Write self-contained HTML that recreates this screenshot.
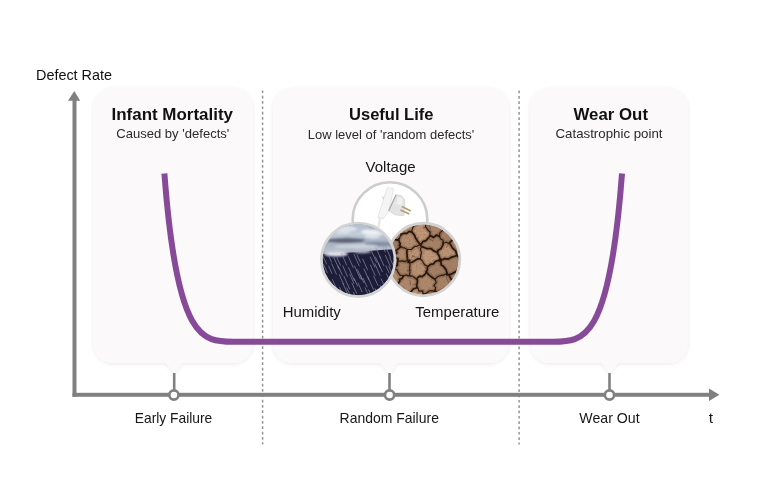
<!DOCTYPE html>
<html><head><meta charset="utf-8">
<style>
html,body{margin:0;padding:0;background:#fff;width:768px;height:480px;overflow:hidden}
svg{display:block}
text{font-family:"Liberation Sans",sans-serif}
</style></head>
<body>
<svg width="768" height="480" viewBox="0 0 768 480">
<defs>
  <filter id="sh" x="-20%" y="-20%" width="140%" height="140%">
    <feGaussianBlur in="SourceAlpha" stdDeviation="2"/>
    <feOffset dy="1.2"/>
    <feComponentTransfer><feFuncA type="linear" slope="0.09"/></feComponentTransfer>
    <feMerge><feMergeNode/><feMergeNode in="SourceGraphic"/></feMerge>
  </filter>
  <filter id="gray" x="0" y="0" width="100%" height="100%"><feOffset dx="0" dy="0"/></filter>
  <filter id="grain" x="0" y="0" width="100%" height="100%">
    <feTurbulence type="fractalNoise" baseFrequency="0.55" numOctaves="2" seed="4" result="n"/>
    <feColorMatrix in="n" type="matrix" values="0 0 0 0 0.25  0 0 0 0 0.16  0 0 0 0 0.1  0 0 0 -2.2 1.25"/>
  </filter>
  <filter id="blur1"><feGaussianBlur stdDeviation="1.2"/></filter>
  <filter id="blur2"><feGaussianBlur stdDeviation="2.2"/></filter>
  <clipPath id="cH"><circle cx="358.2" cy="259.8" r="35.8"/></clipPath>
  <clipPath id="cT"><circle cx="423.5" cy="259.5" r="35.3"/></clipPath>
  <linearGradient id="gH" gradientUnits="userSpaceOnUse" x1="0" y1="222" x2="0" y2="256">
    <stop offset="0" stop-color="#aebacb"/>
    <stop offset="0.35" stop-color="#c4cdda"/>
    <stop offset="0.6" stop-color="#a6b0c1"/>
    <stop offset="0.85" stop-color="#b8c0cd"/>
    <stop offset="1" stop-color="#6a7186"/>
  </linearGradient>
</defs>

<!-- cards -->
<g fill="#fbf9fa" filter="url(#sh)">
  <path d="M113.5,88 H233 A20,20 0 0 1 253,108 V343 A20,20 0 0 1 233,363 H182 L174.3,373.5 L166.5,363 H113.5 A20,20 0 0 1 93.5,343 V108 A20,20 0 0 1 113.5,88 Z"/>
  <path d="M293,88 H489 A20,20 0 0 1 509,108 V343 A20,20 0 0 1 489,363 H397.5 L389.5,373.5 L381.5,363 H293 A20,20 0 0 1 273,343 V108 A20,20 0 0 1 293,88 Z"/>
  <path d="M550,88 H668 A20,20 0 0 1 688,108 V343 A20,20 0 0 1 668,363 H617.5 L609.5,373.5 L601.5,363 H550 A20,20 0 0 1 530,343 V108 A20,20 0 0 1 550,88 Z"/>
</g>

<!-- dashed separators -->
<g stroke="#959595" stroke-width="1.5" stroke-dasharray="2.7 2.6325">
  <line x1="262.6" y1="90.4" x2="262.6" y2="444.5"/>
  <line x1="519.1" y1="90.6" x2="519.1" y2="444.5"/>
</g>

<!-- axes -->
<g fill="#808080" stroke="none">
  <rect x="72.5" y="99" width="4" height="297.8"/>
  <rect x="72.5" y="392.8" width="637" height="4"/>
  <polygon points="74.3,91 68,100.8 80.2,100.8"/>
  <polygon points="719.4,394.8 709,388.6 709,401"/>
</g>

<!-- ticks -->
<g stroke="#808080" fill="#fff">
  <line x1="174.2" y1="373" x2="174.2" y2="392" stroke-width="2.6"/>
  <line x1="389.5" y1="373" x2="389.5" y2="392" stroke-width="2.6"/>
  <line x1="609.5" y1="373" x2="609.5" y2="392" stroke-width="2.6"/>
  <circle cx="173.9" cy="395" r="4.6" stroke-width="2.7"/>
  <circle cx="389.6" cy="395" r="4.6" stroke-width="2.7"/>
  <circle cx="609.5" cy="395" r="4.6" stroke-width="2.7"/>
</g>

<!-- voltage circle -->
<circle cx="390" cy="219.5" r="37.3" fill="#fff" stroke="#cdcdcd" stroke-width="2.6"/>
<g stroke-linejoin="round">
  <path d="M380.5,215 C379.5,222 378,229 376.5,236" stroke="#e8e8e8" stroke-width="2.4" fill="none"/>
  <path d="M387.4,187.3 L393.7,189 L388.7,210.7 L383.5,218.5 L377.8,217.3 Z" fill="#f5f5f5" stroke="#e3e3e3" stroke-width="0.9"/>
  <path d="M382.8,196.5 L383.5,199" stroke="#c8c8c8" stroke-width="1"/>
  <path d="M396,194.8 L401.5,195.8 L404.8,200 L403.7,215.7 L395,214.8 L388.7,210.7 Z" fill="#e3e3e3" stroke="#d4d4d4" stroke-width="0.8"/>
  <path d="M398,197 L402.5,198 L402,205 L396,204 Z" fill="#f1f1f1"/>
  <path d="M396,194.8 L388.7,210.7" stroke="#acacac" stroke-width="1.3"/>
  <path d="M402.3,206.8 L410.3,210.7 M401,210.2 L408.7,213.8" stroke="#b39b78" stroke-width="1.6" stroke-linecap="round"/>
</g>

<!-- temperature circle -->
<g clip-path="url(#cT)">
  <rect x="385" y="221" width="78" height="78" fill="#a8805f"/>
  <path d="M426.5,272.3 L416.4,278.9 L409.7,274.7 L409.9,262.4 L420.4,259.0 L427.8,266.5Z" fill="#ba9173"/>
<path d="M458.2,229.6 L458.8,235.3 L465.9,241.3 L490.5,237.3 L466.9,223.6Z" fill="#af896c"/>
<path d="M437.9,252.8 L421.9,246.5 L420.8,244.5 L429.9,236.1 L439.4,236.5 L443.1,242.5Z" fill="#a78266"/>
<path d="M459.8,256.4 L457.0,255.5 L440.9,260.5 L447.1,273.3 L449.1,274.4 L459.1,270.2Z" fill="#a58065"/>
<path d="M380.9,265.5 L379.9,256.6 L381.0,254.2 L383.1,253.1 L393.8,254.1 L397.9,261.2 L394.5,268.4 L388.3,269.7Z" fill="#a27e63"/>
<path d="M383.1,253.1 L388.4,239.5 L381.2,231.9 L370.0,240.2 L381.0,254.2Z" fill="#b78f71"/>
<path d="M401.2,234.5 L393.8,221.1 L388.1,220.2 L382.4,224.2 L381.2,231.9 L388.4,239.5 L398.6,239.1Z" fill="#b99173"/>
<path d="M387.9,285.4 L397.4,284.4 L404.7,293.9 L402.9,299.6 L396.2,303.7 L392.1,302.4 L385.7,287.2Z" fill="#be9576"/>
<path d="M467.7,285.5 L463.6,301.3 L454.2,299.6 L451.0,288.0 L451.3,287.4Z" fill="#a98468"/>
<path d="M434.9,279.1 L435.2,291.4 L422.8,293.2 L417.3,287.8 L416.4,278.9 L426.5,272.3Z" fill="#af896c"/>
<path d="M448.4,305.8 L454.2,299.6 L451.0,288.0 L436.1,291.9 L439.8,304.8Z" fill="#aa8468"/>
<path d="M447.1,273.3 L449.1,274.4 L451.3,287.4 L451.0,288.0 L436.1,291.9 L435.2,291.4 L434.9,279.1Z" fill="#a88267"/>
<path d="M420.5,304.6 L422.8,293.2 L417.3,287.8 L404.7,293.9 L402.9,299.6 L413.0,306.3Z" fill="#c39979"/>
<path d="M440.9,260.5 L457.0,255.5 L449.4,242.9 L443.1,242.5 L437.9,252.8 L439.7,259.8Z" fill="#bd9475"/>
<path d="M425.8,222.9 L429.9,236.1 L420.8,244.5 L420.1,244.2 L411.9,232.1 L415.4,223.3 L418.3,221.8Z" fill="#c19878"/>
<path d="M440.9,260.5 L447.1,273.3 L434.9,279.1 L426.5,272.3 L427.8,266.5 L439.7,259.8Z" fill="#a37f64"/>
<path d="M383.1,253.1 L388.4,239.5 L398.6,239.1 L400.8,246.4 L393.8,254.1Z" fill="#a07c62"/>
<path d="M466.8,274.9 L468.7,284.8 L467.7,285.5 L451.3,287.4 L449.1,274.4 L459.1,270.2Z" fill="#a37f64"/>
<path d="M459.8,256.4 L459.1,270.2 L466.8,274.9 L475.0,267.8 L470.5,257.3 L462.2,255.2Z" fill="#a27e63"/>
<path d="M442.7,227.9 L453.2,226.2 L452.5,213.9 L447.6,210.0 L437.4,220.1Z" fill="#b48d6f"/>
<path d="M393.8,254.1 L400.8,246.4 L407.1,249.5 L407.7,260.4 L397.9,261.2Z" fill="#b18a6d"/>
<path d="M401.2,234.5 L411.9,232.1 L415.4,223.3 L403.3,215.4 L393.8,221.1Z" fill="#c09777"/>
<path d="M439.7,259.8 L437.9,252.8 L421.9,246.5 L420.4,259.0 L427.8,266.5Z" fill="#c19878"/>
<path d="M401.2,234.5 L411.9,232.1 L420.1,244.2 L407.1,249.5 L400.8,246.4 L398.6,239.1Z" fill="#b48c6f"/>
<path d="M388.3,269.7 L394.5,268.4 L403.4,276.0 L397.4,284.4 L387.9,285.4Z" fill="#b38c6f"/>
<path d="M443.1,242.5 L439.4,236.5 L442.7,227.9 L453.2,226.2 L458.2,229.6 L458.8,235.3 L449.4,242.9Z" fill="#a58065"/>
<path d="M407.1,249.5 L420.1,244.2 L420.8,244.5 L421.9,246.5 L420.4,259.0 L409.9,262.4 L407.7,260.4Z" fill="#be9576"/>
<path d="M394.5,268.4 L403.4,276.0 L409.7,274.7 L409.9,262.4 L407.7,260.4 L397.9,261.2Z" fill="#a98468"/>
<path d="M432.5,219.0 L437.4,220.1 L442.7,227.9 L439.4,236.5 L429.9,236.1 L425.8,222.9Z" fill="#aa8468"/>
<path d="M403.4,276.0 L409.7,274.7 L416.4,278.9 L417.3,287.8 L404.7,293.9 L397.4,284.4Z" fill="#af886c"/>
<path d="M439.8,304.8 L437.6,307.3 L424.0,308.9 L420.5,304.6 L422.8,293.2 L435.2,291.4 L436.1,291.9Z" fill="#ad876b"/>
<path d="M380.9,265.5 L388.3,269.7 L387.9,285.4 L385.7,287.2 L381.2,287.3 L376.4,283.0 L376.5,269.6Z" fill="#b28b6e"/>
<path d="M459.8,256.4 L457.0,255.5 L449.4,242.9 L458.8,235.3 L465.9,241.3 L462.2,255.2Z" fill="#af896c"/>
<rect x="385" y="221" width="78" height="78" filter="url(#grain)" opacity="0.55"/>
<path fill="none" stroke="#5a3a26" stroke-width="4.5" opacity="0.28" stroke-linejoin="round" d="M404.7,293.9L405.2,295.6L403.8,296.0L402.6,297.6L402.9,299.6M404.7,293.9L408.1,292.3L410.8,292.0L413.5,288.8L417.3,287.8M413.0,306.3L415.6,306.4L415.6,305.0L418.8,305.0L420.5,304.6M401.7,331.7L403.1,325.5L407.3,318.4L409.8,313.8L413.0,306.3M396.2,303.7L397.4,303.0L398.8,300.4L401.5,300.4L402.9,299.6M436.1,291.9L436.7,295.2L438.6,298.4L439.3,300.5L439.8,304.8M451.0,288.0L451.7,291.3L453.9,292.4L454.6,296.9L454.2,299.6M437.6,307.3L437.9,308.1L439.4,306.4L439.2,305.8L439.8,304.8M435.2,291.4L434.6,290.3L436.8,293.0L435.0,290.7L436.1,291.9M451.0,288.0L451.9,287.9L451.6,288.9L451.2,288.2L451.3,287.4M452.5,213.9L451.7,216.5L453.6,219.7L454.1,223.9L453.2,226.2M466.9,223.6L465.5,224.6L462.7,226.2L459.9,229.3L458.2,229.6M458.2,229.6L456.6,229.5L456.5,228.4L453.3,226.0L453.2,226.2M458.8,235.3L459.6,236.0L462.7,238.1L465.1,241.1L465.9,241.3M458.8,235.3L459.3,234.1L458.4,231.8L457.0,232.4L458.2,229.6M465.9,241.3L472.2,240.7L478.0,239.1L483.8,237.0L490.5,237.3M437.4,220.1L440.0,221.0L441.4,225.2L440.6,226.9L442.7,227.9M458.8,235.3L455.2,237.7L453.4,239.6L451.8,240.6L449.4,242.9M421.9,246.5L422.0,247.0L420.4,245.5L420.8,244.8L420.8,244.5M421.9,246.5L426.5,248.6L431.1,248.6L433.6,250.9L437.9,252.8M420.8,244.5L423.0,241.4L425.9,240.6L428.6,237.5L429.9,236.1M439.4,236.5L436.8,235.0L433.2,237.5L431.4,235.8L429.9,236.1M443.1,242.5L443.0,244.8L440.8,248.8L437.9,250.5L437.9,252.8M427.8,266.5L427.3,267.6L427.4,270.1L426.0,271.6L426.5,272.3M427.8,266.5L431.0,264.1L433.3,264.0L435.3,261.5L439.7,259.8M426.5,272.3L429.2,275.1L430.4,276.1L433.6,278.5L434.9,279.1M447.1,273.3L446.0,269.6L443.2,266.1L441.1,264.8L440.9,260.5M439.7,259.8L440.9,259.0L440.0,259.8L439.4,261.2L440.9,260.5M420.4,259.0L417.7,258.7L414.6,260.8L411.4,262.5L409.9,262.4M416.4,278.9L419.6,276.2L421.9,276.6L424.3,275.0L426.5,272.3M437.9,252.8L437.6,253.9L438.9,255.2L439.8,258.2L439.7,259.8M416.4,278.9L417.5,280.2L417.1,283.6L416.6,285.1L417.3,287.8M449.1,274.4L449.5,276.4L451.6,279.9L452.0,284.8L451.3,287.4M449.1,274.4L447.9,274.7L446.8,274.9L446.5,274.5L447.1,273.3M457.0,255.5L451.7,257.1L448.4,258.9L444.5,258.6L440.9,260.5M457.0,255.5L455.7,251.0L452.6,248.1L450.7,244.8L449.4,242.9M409.9,262.4L408.0,262.3L409.8,260.4L407.5,260.4L407.7,260.4M407.7,260.4L407.1,256.5L407.2,254.0L406.8,253.6L407.1,249.5M397.4,284.4L399.9,281.0L399.5,279.3L401.9,278.6L403.4,276.0M459.1,270.2L460.2,267.7L460.2,263.7L460.7,258.5L459.8,256.4M466.8,274.9L469.1,272.2L469.6,270.3L471.9,270.1L475.0,267.8M475.0,267.8L473.5,265.8L471.9,263.4L470.6,259.2L470.5,257.3M470.5,257.3L469.3,258.0L467.0,255.7L464.9,255.5L462.2,255.2M462.2,255.2L461.5,256.9L459.9,255.8L459.9,256.5L459.8,256.4M449.1,274.4L450.5,274.5L453.2,273.0L456.4,271.3L459.1,270.2M457.0,255.5L458.6,256.8L458.6,257.0L458.1,256.1L459.8,256.4M498.9,238.6L491.5,243.4L484.0,248.0L478.2,253.7L470.5,257.3M418.3,221.8L419.8,205.0L419.7,186.4L421.5,168.7L421.9,152.8M418.3,221.8L419.4,221.3L422.1,222.1L423.0,222.3L425.8,222.9M425.8,222.9L426.3,223.3L429.2,220.4L432.0,220.9L432.5,219.0M419.1,102.7L415.2,130.6L411.8,158.6L407.0,188.2L403.3,215.4M420.1,244.2L418.5,242.5L415.5,237.9L414.5,235.1L411.9,232.1M388.1,220.2L389.3,219.1L390.1,221.4L391.7,219.6L393.8,221.1M388.4,239.5L391.8,239.4L394.3,239.1L397.4,240.1L398.6,239.1M403.3,215.4L402.0,215.7L397.9,219.0L396.4,219.8L393.8,221.1M411.9,232.1L409.1,231.4L406.7,233.3L404.0,233.3L401.2,234.5M400.8,246.4L399.3,245.6L400.3,243.8L399.4,242.3L398.6,239.1M400.8,246.4L400.1,247.4L396.0,250.6L396.9,252.9L393.8,254.1M397.9,261.2L398.0,258.5L397.1,258.6L395.2,256.8L393.8,254.1M397.9,261.2L397.5,262.9L397.5,265.4L396.4,265.3L394.5,268.4M393.8,254.1L391.1,252.6L387.8,252.5L385.1,254.2L383.1,253.1M147.7,275.0L207.0,270.1L263.8,265.3L322.8,261.2L379.9,256.6M381.0,254.2L382.0,254.0L381.6,253.9L383.8,253.0L383.1,253.1M387.9,285.4L387.0,282.7L388.0,276.8L388.6,274.7L388.3,269.7M376.5,269.6L378.0,269.3L378.8,266.2L380.8,266.4L380.9,265.5M392.1,302.4L390.9,297.9L387.7,294.9L386.2,289.9L385.7,287.2M397.4,284.4L395.6,285.5L394.0,286.1L391.4,284.1L387.9,285.4M394.5,268.4L393.6,268.8L392.8,268.6L390.7,269.8L388.3,269.7M168.9,275.2L221.1,274.9L272.6,271.0L325.6,270.9L376.5,269.6M402.9,299.6L406.1,301.1L407.3,301.6L411.5,303.5L413.0,306.3M417.3,287.8L418.2,288.5L419.0,291.1L422.8,290.9L422.8,293.2M422.8,293.2L423.6,296.8L422.7,298.2L419.9,300.6L420.5,304.6M424.0,308.9L423.7,307.4L423.0,307.8L421.5,305.6L420.5,304.6M436.1,291.9L440.5,290.9L442.1,290.9L446.0,288.2L451.0,288.0M439.8,304.8L441.0,305.2L445.2,305.7L445.3,306.4L448.4,305.8M435.2,291.4L431.2,290.7L428.8,291.2L425.4,293.8L422.8,293.2M451.3,287.4L456.8,288.3L458.6,286.2L465.0,285.2L467.7,285.5M447.6,210.0L446.4,211.9L441.7,213.9L441.0,218.7L437.4,220.1M453.2,226.2L451.1,226.9L448.5,226.3L446.7,227.9L442.7,227.9M442.7,227.9L442.7,230.4L439.8,232.9L439.6,235.7L439.4,236.5M439.4,236.5L440.9,239.3L442.5,239.8L443.0,240.3L443.1,242.5M449.4,242.9L448.7,243.5L446.2,242.2L443.6,243.2L443.1,242.5M434.9,279.1L437.5,276.7L441.4,275.2L443.3,275.3L447.1,273.3M420.4,259.0L422.7,261.1L423.0,262.2L424.7,264.9L427.8,266.5M416.4,278.9L414.3,277.2L411.7,275.8L410.2,276.5L409.7,274.7M409.9,262.4L410.0,266.0L409.6,267.6L410.0,272.2L409.7,274.7M420.4,259.0L420.9,254.6L421.5,252.8L420.4,249.0L421.9,246.5M435.2,291.4L435.5,287.4L433.9,285.7L436.2,282.5L434.9,279.1M420.8,244.5L419.4,243.1L421.4,244.4L420.6,245.2L420.1,244.2M420.1,244.2L417.3,246.1L414.5,246.5L411.5,249.4L407.1,249.5M404.7,293.9L403.9,292.3L402.0,288.5L398.9,287.6L397.4,284.4M409.7,274.7L408.2,276.1L406.9,275.0L405.9,275.1L403.4,276.0M459.1,270.2L462.3,271.6L461.9,273.0L463.8,273.9L466.8,274.9M468.7,284.8L469.1,281.5L467.2,281.1L466.0,278.4L466.8,274.9M465.9,241.3L464.3,243.5L465.2,248.6L463.8,250.9L462.2,255.2M421.9,152.8L424.5,170.7L428.2,186.1L430.5,202.8L432.5,219.0M415.4,223.3L413.6,221.2L408.1,219.9L407.7,217.7L403.3,215.4M415.4,223.3L417.1,223.3L416.3,222.0L418.2,221.2L418.3,221.8M429.9,236.1L430.1,232.0L427.5,229.7L425.5,226.6L425.8,222.9M415.4,223.3L415.0,225.5L413.1,226.8L411.7,231.1L411.9,232.1M437.4,220.1L435.1,218.6L434.5,219.1L434.2,219.4L432.5,219.0M393.8,221.1L395.2,224.8L398.3,228.4L398.8,230.9L401.2,234.5M381.2,231.9L382.7,234.9L385.1,236.0L387.4,238.4L388.4,239.5M398.6,239.1L399.3,239.0L400.2,236.4L401.0,235.6L401.2,234.5M400.8,246.4L402.5,247.6L404.6,247.9L405.8,248.8L407.1,249.5M407.7,260.4L403.9,261.6L403.2,260.8L400.1,261.1L397.9,261.2M403.4,276.0L400.0,275.2L397.7,271.9L396.9,269.8L394.5,268.4M388.4,239.5L387.7,243.9L386.6,245.0L383.9,250.6L383.1,253.1M370.0,240.2L374.0,242.6L376.4,246.6L379.0,251.2L381.0,254.2M379.9,256.6L379.3,256.6L380.4,256.2L380.2,255.0L381.0,254.2M381.2,287.3L381.4,287.0L384.2,287.8L385.8,288.0L385.7,287.2M385.7,287.2L386.4,286.2L385.9,285.6L386.2,285.1L387.9,285.4M376.4,283.0L377.7,281.0L375.4,277.0L375.8,273.7L376.5,269.6M388.3,269.7L386.0,269.5L385.7,268.5L381.4,265.7L380.9,265.5M379.9,256.6L379.5,258.1L379.4,259.6L379.7,264.2L380.9,265.5"/>
<path fill="none" stroke="#26160c" stroke-width="1.7" stroke-linejoin="round" stroke-linecap="round" d="M404.7,293.9L405.2,295.6L403.8,296.0L402.6,297.6L402.9,299.6M404.7,293.9L408.1,292.3L410.8,292.0L413.5,288.8L417.3,287.8M413.0,306.3L415.6,306.4L415.6,305.0L418.8,305.0L420.5,304.6M401.7,331.7L403.1,325.5L407.3,318.4L409.8,313.8L413.0,306.3M396.2,303.7L397.4,303.0L398.8,300.4L401.5,300.4L402.9,299.6M436.1,291.9L436.7,295.2L438.6,298.4L439.3,300.5L439.8,304.8M451.0,288.0L451.7,291.3L453.9,292.4L454.6,296.9L454.2,299.6M437.6,307.3L437.9,308.1L439.4,306.4L439.2,305.8L439.8,304.8M435.2,291.4L434.6,290.3L436.8,293.0L435.0,290.7L436.1,291.9M451.0,288.0L451.9,287.9L451.6,288.9L451.2,288.2L451.3,287.4M452.5,213.9L451.7,216.5L453.6,219.7L454.1,223.9L453.2,226.2M466.9,223.6L465.5,224.6L462.7,226.2L459.9,229.3L458.2,229.6M458.2,229.6L456.6,229.5L456.5,228.4L453.3,226.0L453.2,226.2M458.8,235.3L459.6,236.0L462.7,238.1L465.1,241.1L465.9,241.3M458.8,235.3L459.3,234.1L458.4,231.8L457.0,232.4L458.2,229.6M465.9,241.3L472.2,240.7L478.0,239.1L483.8,237.0L490.5,237.3M437.4,220.1L440.0,221.0L441.4,225.2L440.6,226.9L442.7,227.9M458.8,235.3L455.2,237.7L453.4,239.6L451.8,240.6L449.4,242.9M421.9,246.5L422.0,247.0L420.4,245.5L420.8,244.8L420.8,244.5M421.9,246.5L426.5,248.6L431.1,248.6L433.6,250.9L437.9,252.8M420.8,244.5L423.0,241.4L425.9,240.6L428.6,237.5L429.9,236.1M439.4,236.5L436.8,235.0L433.2,237.5L431.4,235.8L429.9,236.1M443.1,242.5L443.0,244.8L440.8,248.8L437.9,250.5L437.9,252.8M427.8,266.5L427.3,267.6L427.4,270.1L426.0,271.6L426.5,272.3M427.8,266.5L431.0,264.1L433.3,264.0L435.3,261.5L439.7,259.8M426.5,272.3L429.2,275.1L430.4,276.1L433.6,278.5L434.9,279.1M447.1,273.3L446.0,269.6L443.2,266.1L441.1,264.8L440.9,260.5M439.7,259.8L440.9,259.0L440.0,259.8L439.4,261.2L440.9,260.5M420.4,259.0L417.7,258.7L414.6,260.8L411.4,262.5L409.9,262.4M416.4,278.9L419.6,276.2L421.9,276.6L424.3,275.0L426.5,272.3M437.9,252.8L437.6,253.9L438.9,255.2L439.8,258.2L439.7,259.8M416.4,278.9L417.5,280.2L417.1,283.6L416.6,285.1L417.3,287.8M449.1,274.4L449.5,276.4L451.6,279.9L452.0,284.8L451.3,287.4M449.1,274.4L447.9,274.7L446.8,274.9L446.5,274.5L447.1,273.3M457.0,255.5L451.7,257.1L448.4,258.9L444.5,258.6L440.9,260.5M457.0,255.5L455.7,251.0L452.6,248.1L450.7,244.8L449.4,242.9M409.9,262.4L408.0,262.3L409.8,260.4L407.5,260.4L407.7,260.4M407.7,260.4L407.1,256.5L407.2,254.0L406.8,253.6L407.1,249.5M397.4,284.4L399.9,281.0L399.5,279.3L401.9,278.6L403.4,276.0M459.1,270.2L460.2,267.7L460.2,263.7L460.7,258.5L459.8,256.4M466.8,274.9L469.1,272.2L469.6,270.3L471.9,270.1L475.0,267.8M475.0,267.8L473.5,265.8L471.9,263.4L470.6,259.2L470.5,257.3M470.5,257.3L469.3,258.0L467.0,255.7L464.9,255.5L462.2,255.2M462.2,255.2L461.5,256.9L459.9,255.8L459.9,256.5L459.8,256.4M449.1,274.4L450.5,274.5L453.2,273.0L456.4,271.3L459.1,270.2M457.0,255.5L458.6,256.8L458.6,257.0L458.1,256.1L459.8,256.4M498.9,238.6L491.5,243.4L484.0,248.0L478.2,253.7L470.5,257.3M418.3,221.8L419.8,205.0L419.7,186.4L421.5,168.7L421.9,152.8M418.3,221.8L419.4,221.3L422.1,222.1L423.0,222.3L425.8,222.9M425.8,222.9L426.3,223.3L429.2,220.4L432.0,220.9L432.5,219.0M419.1,102.7L415.2,130.6L411.8,158.6L407.0,188.2L403.3,215.4M420.1,244.2L418.5,242.5L415.5,237.9L414.5,235.1L411.9,232.1M388.1,220.2L389.3,219.1L390.1,221.4L391.7,219.6L393.8,221.1M388.4,239.5L391.8,239.4L394.3,239.1L397.4,240.1L398.6,239.1M403.3,215.4L402.0,215.7L397.9,219.0L396.4,219.8L393.8,221.1M411.9,232.1L409.1,231.4L406.7,233.3L404.0,233.3L401.2,234.5M400.8,246.4L399.3,245.6L400.3,243.8L399.4,242.3L398.6,239.1M400.8,246.4L400.1,247.4L396.0,250.6L396.9,252.9L393.8,254.1M397.9,261.2L398.0,258.5L397.1,258.6L395.2,256.8L393.8,254.1M397.9,261.2L397.5,262.9L397.5,265.4L396.4,265.3L394.5,268.4M393.8,254.1L391.1,252.6L387.8,252.5L385.1,254.2L383.1,253.1M147.7,275.0L207.0,270.1L263.8,265.3L322.8,261.2L379.9,256.6M381.0,254.2L382.0,254.0L381.6,253.9L383.8,253.0L383.1,253.1M387.9,285.4L387.0,282.7L388.0,276.8L388.6,274.7L388.3,269.7M376.5,269.6L378.0,269.3L378.8,266.2L380.8,266.4L380.9,265.5M392.1,302.4L390.9,297.9L387.7,294.9L386.2,289.9L385.7,287.2M397.4,284.4L395.6,285.5L394.0,286.1L391.4,284.1L387.9,285.4M394.5,268.4L393.6,268.8L392.8,268.6L390.7,269.8L388.3,269.7M168.9,275.2L221.1,274.9L272.6,271.0L325.6,270.9L376.5,269.6"/>
<path fill="none" stroke="#2e1c10" stroke-width="1.2" stroke-linejoin="round" stroke-linecap="round" d="M402.9,299.6L406.1,301.1L407.3,301.6L411.5,303.5L413.0,306.3M417.3,287.8L418.2,288.5L419.0,291.1L422.8,290.9L422.8,293.2M422.8,293.2L423.6,296.8L422.7,298.2L419.9,300.6L420.5,304.6M424.0,308.9L423.7,307.4L423.0,307.8L421.5,305.6L420.5,304.6M436.1,291.9L440.5,290.9L442.1,290.9L446.0,288.2L451.0,288.0M439.8,304.8L441.0,305.2L445.2,305.7L445.3,306.4L448.4,305.8M435.2,291.4L431.2,290.7L428.8,291.2L425.4,293.8L422.8,293.2M451.3,287.4L456.8,288.3L458.6,286.2L465.0,285.2L467.7,285.5M447.6,210.0L446.4,211.9L441.7,213.9L441.0,218.7L437.4,220.1M453.2,226.2L451.1,226.9L448.5,226.3L446.7,227.9L442.7,227.9M442.7,227.9L442.7,230.4L439.8,232.9L439.6,235.7L439.4,236.5M439.4,236.5L440.9,239.3L442.5,239.8L443.0,240.3L443.1,242.5M449.4,242.9L448.7,243.5L446.2,242.2L443.6,243.2L443.1,242.5M434.9,279.1L437.5,276.7L441.4,275.2L443.3,275.3L447.1,273.3M420.4,259.0L422.7,261.1L423.0,262.2L424.7,264.9L427.8,266.5M416.4,278.9L414.3,277.2L411.7,275.8L410.2,276.5L409.7,274.7M409.9,262.4L410.0,266.0L409.6,267.6L410.0,272.2L409.7,274.7M420.4,259.0L420.9,254.6L421.5,252.8L420.4,249.0L421.9,246.5M435.2,291.4L435.5,287.4L433.9,285.7L436.2,282.5L434.9,279.1M420.8,244.5L419.4,243.1L421.4,244.4L420.6,245.2L420.1,244.2M420.1,244.2L417.3,246.1L414.5,246.5L411.5,249.4L407.1,249.5M404.7,293.9L403.9,292.3L402.0,288.5L398.9,287.6L397.4,284.4M409.7,274.7L408.2,276.1L406.9,275.0L405.9,275.1L403.4,276.0M459.1,270.2L462.3,271.6L461.9,273.0L463.8,273.9L466.8,274.9M468.7,284.8L469.1,281.5L467.2,281.1L466.0,278.4L466.8,274.9M465.9,241.3L464.3,243.5L465.2,248.6L463.8,250.9L462.2,255.2M421.9,152.8L424.5,170.7L428.2,186.1L430.5,202.8L432.5,219.0M415.4,223.3L413.6,221.2L408.1,219.9L407.7,217.7L403.3,215.4M415.4,223.3L417.1,223.3L416.3,222.0L418.2,221.2L418.3,221.8M429.9,236.1L430.1,232.0L427.5,229.7L425.5,226.6L425.8,222.9M415.4,223.3L415.0,225.5L413.1,226.8L411.7,231.1L411.9,232.1M437.4,220.1L435.1,218.6L434.5,219.1L434.2,219.4L432.5,219.0M393.8,221.1L395.2,224.8L398.3,228.4L398.8,230.9L401.2,234.5M381.2,231.9L382.7,234.9L385.1,236.0L387.4,238.4L388.4,239.5M398.6,239.1L399.3,239.0L400.2,236.4L401.0,235.6L401.2,234.5M400.8,246.4L402.5,247.6L404.6,247.9L405.8,248.8L407.1,249.5M407.7,260.4L403.9,261.6L403.2,260.8L400.1,261.1L397.9,261.2M403.4,276.0L400.0,275.2L397.7,271.9L396.9,269.8L394.5,268.4M388.4,239.5L387.7,243.9L386.6,245.0L383.9,250.6L383.1,253.1M370.0,240.2L374.0,242.6L376.4,246.6L379.0,251.2L381.0,254.2M379.9,256.6L379.3,256.6L380.4,256.2L380.2,255.0L381.0,254.2M381.2,287.3L381.4,287.0L384.2,287.8L385.8,288.0L385.7,287.2M385.7,287.2L386.4,286.2L385.9,285.6L386.2,285.1L387.9,285.4M376.4,283.0L377.7,281.0L375.4,277.0L375.8,273.7L376.5,269.6M388.3,269.7L386.0,269.5L385.7,268.5L381.4,265.7L380.9,265.5M379.9,256.6L379.5,258.1L379.4,259.6L379.7,264.2L380.9,265.5"/>
<path fill="none" stroke="#4a3020" stroke-width="0.7" opacity="0.7" d="M390.8,248.9L394.2,252.2M411.9,255.5L414.9,257.0M430.5,229.2L428.6,223.0M398.9,232.5L396.4,228.3M446.2,277.3L448.8,282.8M443.4,294.2L443.1,291.2M417.7,278.9L413.2,277.5M417.3,284.0L412.6,284.4M386.9,235.1L388.7,240.0M411.9,270.2L406.8,270.7M459.4,268.2L456.0,270.0M388.3,243.4L382.2,240.3M410.3,285.2L410.1,280.4M421.2,246.7L417.5,248.3M408.2,256.9L405.4,263.0M395.2,284.5L399.2,285.3M411.2,257.7L413.8,255.5M428.3,238.2L433.7,241.3M425.5,226.9L422.7,228.7M397.0,250.2L396.3,254.7M415.9,279.4L410.9,275.4M454.9,290.2L459.8,289.6M418.2,237.6L415.8,242.4M449.2,242.6L446.3,247.9M424.7,267.1L427.3,270.3"/>
</g>
<circle cx="423.5" cy="259.5" r="36.3" fill="none" stroke="#d2d2d2" stroke-width="2.7"/>

<!-- humidity circle -->
<g clip-path="url(#cH)">
  <rect x="320" y="222" width="77" height="77" fill="#1e1d38"/>
  <path d="M320,220 H398 V249 C390,249.5 382,250 374,250.5 C366,251 358,252 350,252.5 C342,253 332,254 320,254 Z" fill="url(#gH)"/>
  <g filter="url(#blur1)">
    <ellipse cx="342.5" cy="232.5" rx="7.1" ry="1.3" fill="#dfe5ec" opacity="0.8"/>
    <ellipse cx="373.8" cy="229.7" rx="3.3" ry="1.6" fill="#a7b1c2" opacity="0.8"/>
    <ellipse cx="369.0" cy="239.1" rx="3.8" ry="1.8" fill="#a7b1c2" opacity="0.8"/>
    <ellipse cx="353.3" cy="240.8" rx="7.8" ry="2.1" fill="#a7b1c2" opacity="0.8"/>
    <ellipse cx="351.2" cy="229.7" rx="4.7" ry="1.9" fill="#a7b1c2" opacity="0.8"/>
    <ellipse cx="377.0" cy="233.0" rx="7.6" ry="1.8" fill="#eef2f6" opacity="0.8"/>
    <ellipse cx="371.5" cy="227.7" rx="3.5" ry="1.5" fill="#9fa9ba" opacity="0.8"/>
    <ellipse cx="370.5" cy="246.2" rx="6.2" ry="1.7" fill="#eef2f6" opacity="0.8"/>
    <ellipse cx="359.6" cy="239.8" rx="7.3" ry="1.8" fill="#9fa9ba" opacity="0.8"/>
    <ellipse cx="366.1" cy="245.7" rx="5.5" ry="2.1" fill="#eef2f6" opacity="0.8"/>
    <ellipse cx="347.7" cy="238.1" rx="4.1" ry="1.3" fill="#9fa9ba" opacity="0.8"/>
    <ellipse cx="372.0" cy="236.4" rx="7.5" ry="2.3" fill="#e4e9ef" opacity="0.8"/>
    <ellipse cx="350.8" cy="249.3" rx="6.0" ry="2.2" fill="#a7b1c2" opacity="0.8"/>
    <ellipse cx="338.1" cy="229.3" rx="3.9" ry="2.0" fill="#9fa9ba" opacity="0.8"/>
    <ellipse cx="370" cy="232" rx="9" ry="2.5" fill="#eef1f5"/>
    <ellipse cx="345" cy="229" rx="12" ry="3" fill="#dde3ea"/>
    <ellipse cx="346" cy="240.5" rx="19" ry="2.2" fill="#5b6072"/>
    <ellipse cx="380" cy="244" rx="16" ry="2" fill="#858c9e"/>
    <ellipse cx="356" cy="246.5" rx="22" ry="2.2" fill="#ccd2dc"/>
    <ellipse cx="336" cy="254" rx="12" ry="2.6" fill="#e2e6ec"/>
    <ellipse cx="362" cy="251.5" rx="9" ry="1.8" fill="#aeb5c2"/>
  </g>
  <path fill="none" stroke="#9799b8" stroke-width="0.85" stroke-linecap="round" opacity="0.72" d="M371.0,249.9l5.5,12.3M375.9,247.7l4.6,10.3M381.1,242.7l4.1,9.2M385.2,245.8l5.3,11.8M388.9,242.5l3.5,7.8M396.9,243.1l3.8,8.4M311.6,257.0l5.3,11.7M315.7,259.4l5.2,11.6M321.8,253.5l4.8,10.6M327.9,254.1l3.6,8.0M333.8,257.4l5.3,11.8M337.0,257.8l3.4,7.4M341.4,253.4l5.3,11.7M348.5,256.9l4.7,10.6M354.1,254.6l5.1,11.3M357.1,255.0l3.3,7.3M362.7,259.2l4.8,10.6M370.2,256.8l4.7,10.4M375.5,257.0l4.5,10.1M379.8,256.6l4.1,9.1M385.4,255.3l4.9,10.9M389.9,258.0l5.0,11.2M393.5,258.3l5.6,12.4M311.4,267.9l5.4,12.1M317.2,263.0l5.1,11.4M323.6,264.5l3.7,8.3M328.6,266.1l3.2,7.1M331.7,263.7l4.7,10.5M338.2,266.1l4.1,9.0M342.8,266.0l4.7,10.4M348.6,267.7l5.8,13.0M354.5,265.9l5.8,12.9M357.5,269.6l4.5,10.0M363.9,268.8l4.8,10.7M370.4,265.0l4.6,10.3M374.9,263.9l5.2,11.6M378.4,263.1l3.9,8.6M385.9,265.8l3.2,7.2M388.9,266.5l3.3,7.4M394.5,263.7l5.0,11.1M310.7,275.0l4.4,9.7M318.6,275.2l3.5,7.8M322.1,275.0l4.7,10.4M326.2,275.4l4.9,10.9M332.5,279.6l4.1,9.2M339.3,274.7l4.2,9.4M343.9,276.3l5.7,12.6M349.8,274.3l4.0,8.9M354.1,278.3l3.5,7.7M360.3,274.8l3.5,7.9M363.2,278.4l3.8,8.5M367.8,276.8l5.6,12.5M373.7,276.1l4.2,9.3M381.2,278.9l4.5,9.9M386.5,273.8l4.3,9.5M390.2,278.2l5.1,11.2M394.9,279.5l5.8,12.9M313.3,285.6l5.4,11.9M316.4,283.4l3.4,7.5M323.5,289.8l4.0,8.8M328.4,284.1l5.2,11.6M331.6,286.1l5.3,11.7M339.7,287.4l5.0,11.1M342.9,283.4l5.3,11.8M346.9,288.0l4.0,8.9M352.0,283.2l4.6,10.2M358.1,283.1l4.0,8.9M365.1,287.8l4.4,9.8M368.7,289.9l4.5,10.1M375.0,288.7l4.5,10.0M380.1,285.6l5.4,12.0M385.7,285.6l5.4,12.0M389.1,284.8l5.0,11.0M393.9,289.4l3.2,7.1M313.5,294.3l5.6,12.3M316.5,298.3l4.6,10.2M322.2,296.3l5.8,13.0M329.0,294.4l3.8,8.5M334.4,293.0l3.4,7.5M338.6,293.5l3.2,7.0M343.7,292.8l3.8,8.4M349.2,299.7l4.4,9.7M353.5,292.5l4.5,10.0M357.7,296.3l3.4,7.6M363.2,298.9l4.1,9.0M370.3,297.3l3.4,7.7M374.2,296.2l4.4,9.9M378.5,294.4l5.2,11.5M385.1,295.3l4.4,9.7M389.8,295.9l4.7,10.3M396.6,292.1l4.8,10.7"/>
</g>
<circle cx="358.2" cy="259.8" r="36.8" fill="none" stroke="#d4d4d4" stroke-width="2.7"/>

<!-- curve -->
<path d="M164.4,173.5 C177.2,344 203.4,341.7 235,341.7 L551.4,341.7 C583,341.7 609.2,344 622,173.5"
      fill="none" stroke="#874a99" stroke-width="6"/>

<!-- text -->
<g filter="url(#gray)">
<g fill="#111">
  <text x="36" y="80.2" font-size="15" textLength="76" lengthAdjust="spacingAndGlyphs">Defect Rate</text>
  <text x="111.5" y="119.8" font-size="17.2" font-weight="bold" textLength="121.5" lengthAdjust="spacingAndGlyphs">Infant Mortality</text>
  <text x="349" y="119.9" font-size="17.2" font-weight="bold" textLength="84.5" lengthAdjust="spacingAndGlyphs">Useful Life</text>
  <text x="573.5" y="119.8" font-size="17.2" font-weight="bold" textLength="74.5" lengthAdjust="spacingAndGlyphs">Wear Out</text>
</g>
<g fill="#2a2a2a">
  <text x="116.3" y="138.4" font-size="13.2" textLength="113" lengthAdjust="spacingAndGlyphs">Caused by 'defects'</text>
  <text x="307.8" y="138.7" font-size="13.4" textLength="166.5" lengthAdjust="spacingAndGlyphs">Low level of 'random defects'</text>
  <text x="555.5" y="138.4" font-size="13.2" textLength="107" lengthAdjust="spacingAndGlyphs">Catastrophic point</text>
</g>
<g fill="#161616">
  <text x="365.6" y="172" font-size="15" textLength="50" lengthAdjust="spacingAndGlyphs">Voltage</text>
  <text x="282.8" y="316.9" font-size="15" textLength="58" lengthAdjust="spacingAndGlyphs">Humidity</text>
  <text x="415.3" y="316.7" font-size="15" textLength="84" lengthAdjust="spacingAndGlyphs">Temperature</text>
  <text x="134.8" y="422.7" font-size="14.6" textLength="77.5" lengthAdjust="spacingAndGlyphs">Early Failure</text>
  <text x="339.6" y="422.6" font-size="14.6" textLength="99.3" lengthAdjust="spacingAndGlyphs">Random Failure</text>
  <text x="579.3" y="422.7" font-size="14.6" textLength="60.3" lengthAdjust="spacingAndGlyphs">Wear Out</text>
  <text x="708.8" y="422.7" font-size="15.5">t</text>
</g>
</g>
</svg>
</body></html>
